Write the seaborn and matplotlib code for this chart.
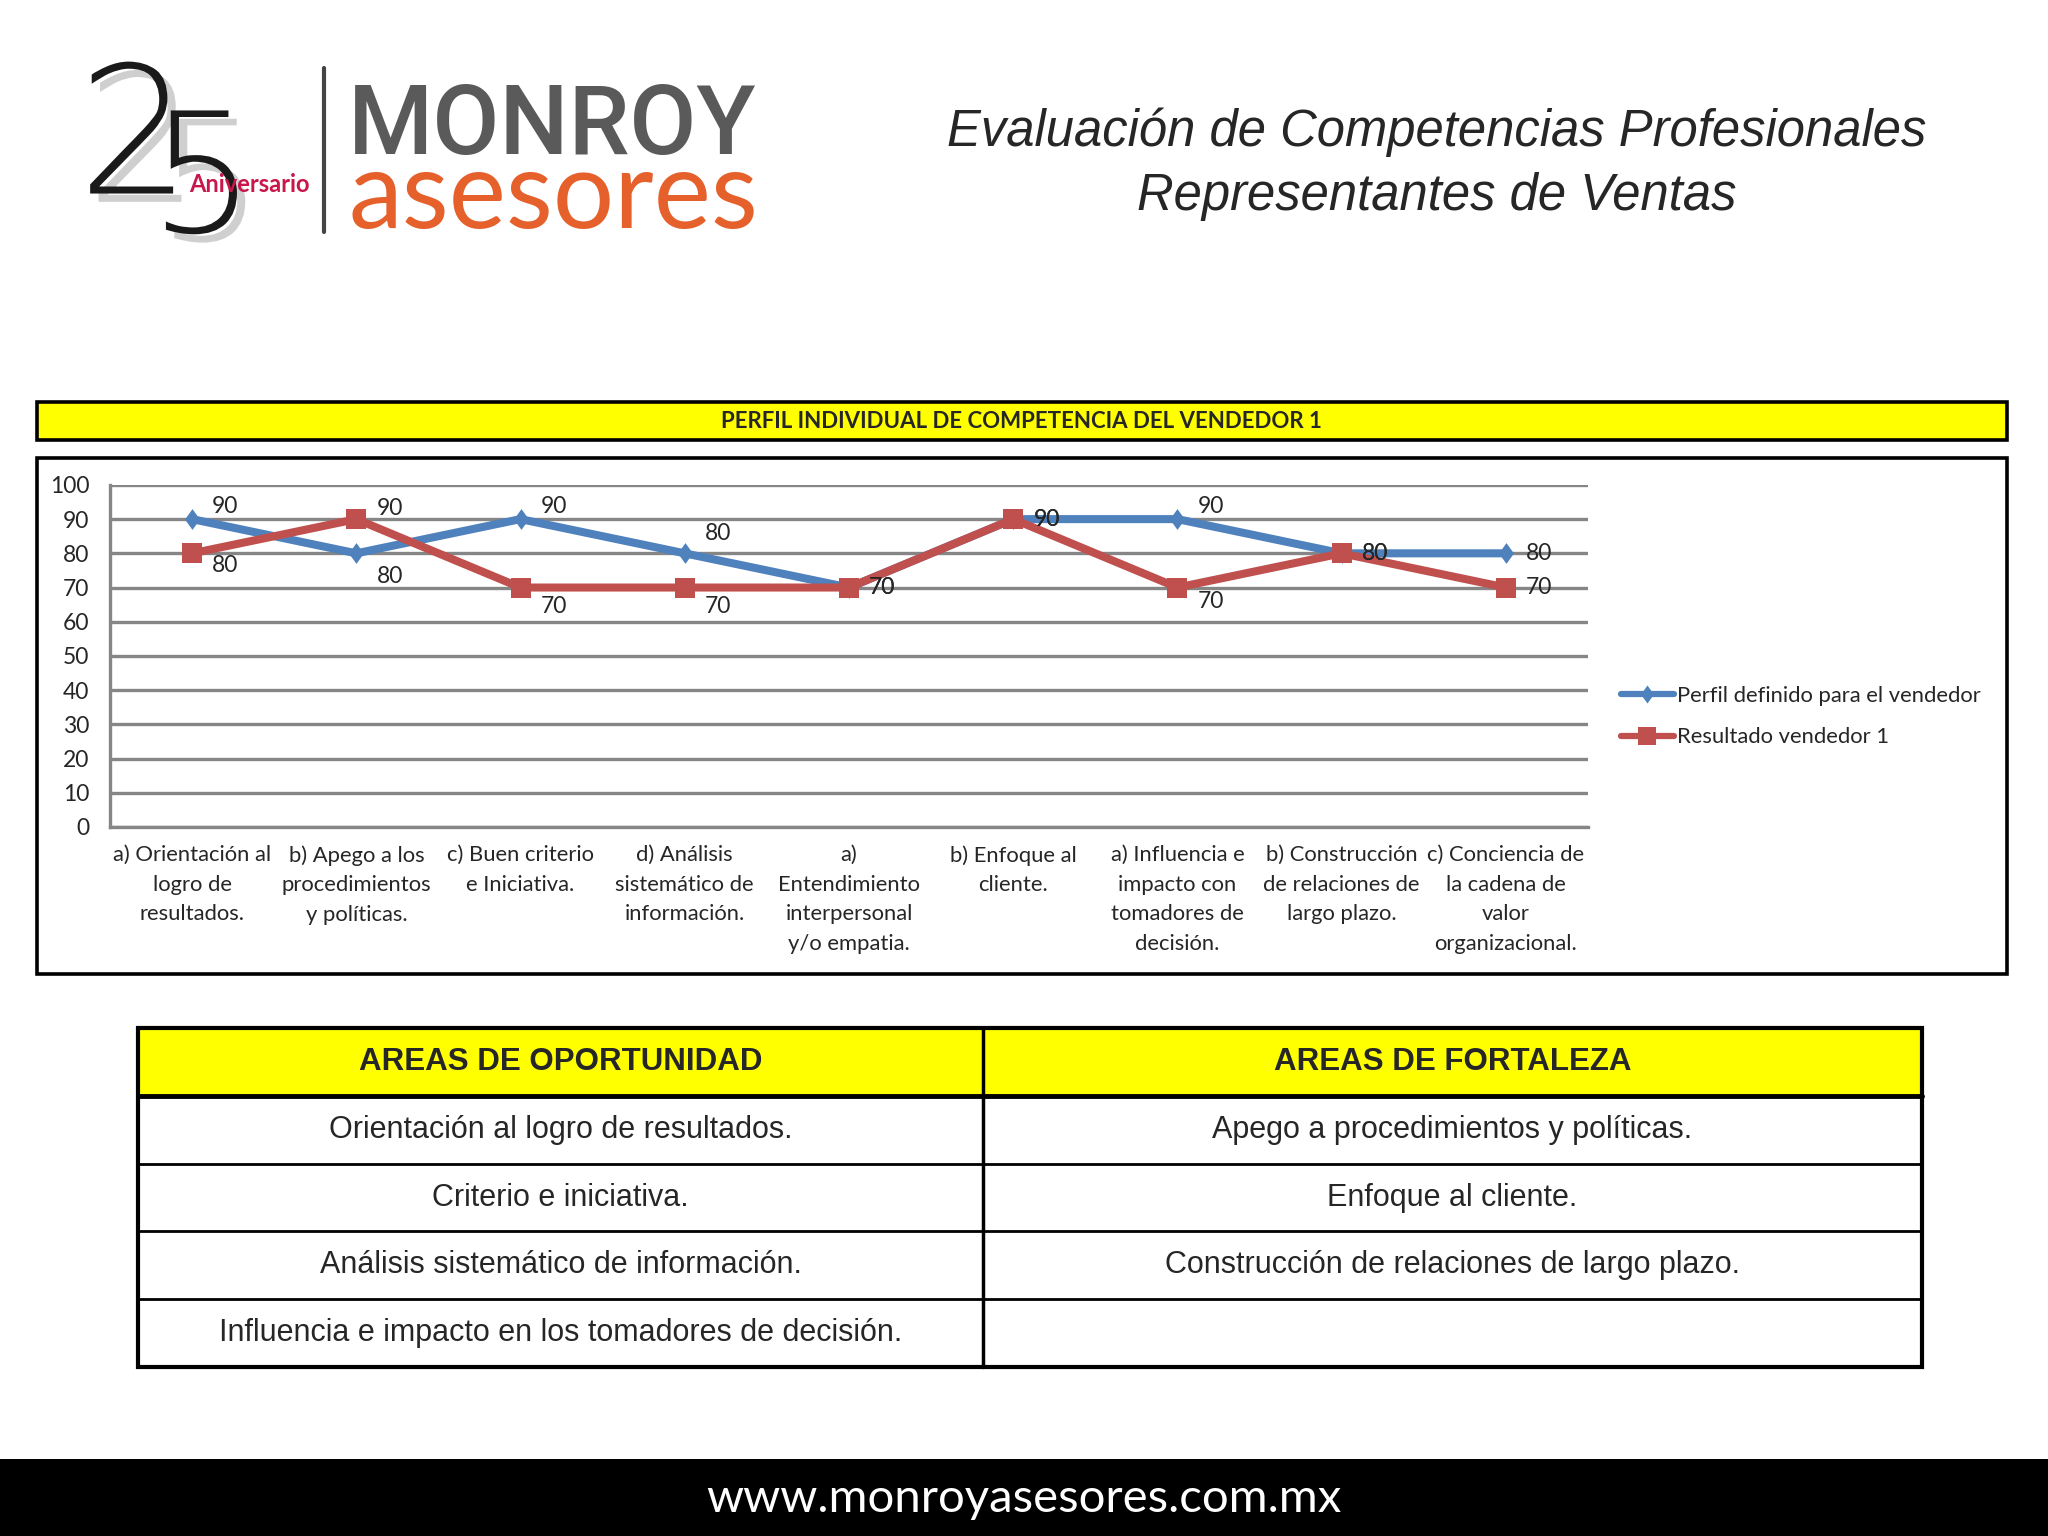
import numpy as np
import pandas as pd
import seaborn as sns
import matplotlib.pyplot as plt
import matplotlib.patheffects as pe
from matplotlib.patches import Rectangle
from matplotlib.path import Path

# datos del grafico
categorias = [
    "a) Orientación al\nlogro de\nresultados.",
    "b) Apego a los\nprocedimientos\ny políticas.",
    "c) Buen criterio\ne Iniciativa.",
    "d) Análisis\nsistemático de\ninformación.",
    "a)\nEntendimiento\ninterpersonal\ny/o empatia.",
    "b) Enfoque al\ncliente.",
    "a) Influencia e\nimpacto con\ntomadores de\ndecisión.",
    "b) Construcción\nde relaciones de\nlargo plazo.",
    "c) Conciencia de\nla cadena de\nvalor\norganizacional.",
]
serie_perfil = "Perfil definido para el vendedor"
serie_resultado = "Resultado vendedor 1"
perfil = [90, 80, 90, 80, 70, 90, 90, 80, 80]
resultado = [80, 90, 70, 70, 70, 90, 70, 80, 70]
yticks = list(range(0, 101, 10))

# posicion de las etiquetas de datos (offset en puntos)
off_perfil = [(24, 9), (24, -17), (24, 9), (24, 14), (24, 0), (24, 0), (24, 9), (24, 0), (24, 0)]
off_resultado = [(24, -9), (24, 8), (24, -14), (24, -14), (24, 0), (24, 0), (24, -10), (24, 0), (24, 0)]

# tabla inferior
encabezados = ["AREAS DE OPORTUNIDAD", "AREAS DE FORTALEZA"]
oportunidad = [
    "Orientación al logro de resultados.",
    "Criterio e iniciativa.",
    "Análisis sistemático de información.",
    "Influencia e impacto en los tomadores de decisión.",
]
fortaleza = [
    "Apego a procedimientos y políticas.",
    "Enfoque al cliente.",
    "Construcción de relaciones de largo plazo.",
    "",
]

AZUL = "#4F81BD"
ROJO = "#C0504D"
GRIS = "#868686"
NARROW = ["Lato", "DejaVu Sans"]

# rombo algo mas alto que ancho, como en Excel
rombo = Path([(0, -0.5), (0.36, 0), (0, 0.5), (-0.36, 0), (0, -0.5)])

sns.set_style("white")
plt.rcParams["font.family"] = ["Liberation Sans", "DejaVu Sans"]

fig = plt.figure(figsize=(20.48, 15.36), dpi=100)

df = pd.DataFrame({
    "pos": list(range(len(categorias))) * 2,
    "valor": perfil + resultado,
    "serie": [serie_perfil] * len(perfil) + [serie_resultado] * len(resultado),
})

# ---- grafico de lineas ----
ax = fig.add_axes([0.0537, 0.4616, 0.7217, 0.2227])
sns.lineplot(data=df, x="pos", y="valor", hue="serie", style="serie",
             palette=[AZUL, ROJO], markers=[rombo, "s"], dashes=False,
             lw=5.8, ms=14, markeredgewidth=0, ax=ax, zorder=3)
ax.lines[0].set_markersize(15)

ax.set_xlim(-0.5, len(categorias) - 0.5)
ax.set_ylim(0, 100)
ax.set_yticks(yticks)
ax.set_xticks(np.arange(-0.5, len(categorias), 1))
ax.set_xticklabels([])
ax.set_xticks(range(len(categorias)), minor=True)
ax.set_xticklabels(categorias, minor=True, family=NARROW, fontsize=15.8,
                   linespacing=1.6)
ax.tick_params(axis="x", which="major", length=8, width=2, color=GRIS, direction="out")
ax.tick_params(axis="x", which="minor", length=0, pad=13)
ax.tick_params(axis="y", length=5, width=2, color=GRIS, pad=10, labelsize=16.5)
for t in ax.get_yticklabels():
    t.set_family(NARROW)
ax.set_xlabel("")
ax.set_ylabel("")
ax.grid(axis="y", color=GRIS, lw=2.4)
ax.set_axisbelow(True)
for s in ["top", "right"]:
    ax.spines[s].set_visible(False)
for s in ["left", "bottom"]:
    ax.spines[s].set_color(GRIS)
    ax.spines[s].set_linewidth(2.4)

for i, (v, o) in enumerate(zip(perfil, off_perfil)):
    ax.annotate(str(v), (i, v), xytext=o, textcoords="offset points",
                ha="center", va="center", fontsize=16.5, family=NARROW, zorder=4)
for i, (v, o) in enumerate(zip(resultado, off_resultado)):
    ax.annotate(str(v), (i, v), xytext=o, textcoords="offset points",
                ha="center", va="center", fontsize=16.5, family=NARROW, zorder=4)

h, l = ax.get_legend_handles_labels()
leg = ax.legend(h, l, loc="center left", bbox_to_anchor=(1.015, 0.323),
                frameon=False, handlelength=2.4, handletextpad=0.15,
                labelspacing=1.0, borderpad=0, prop={"family": NARROW, "size": 15.8})
for lh in leg.legend_handles:
    lh.set_linewidth(4.5)
    lh.set_markersize(13)
    lh.set_markeredgewidth(0)

# marco del grafico y barra amarilla
fig.add_artist(Rectangle((0.018, 0.3659), 0.962, 0.3359, transform=fig.transFigure,
                         fill=False, ec="black", lw=2.6))
fig.add_artist(Rectangle((0.018, 0.7135), 0.962, 0.0248, transform=fig.transFigure,
                         fc="#FFFF00", ec="black", lw=2.6))
fig.text(0.4986, 0.7259, "PERFIL INDIVIDUAL DE COMPETENCIA DEL VENDEDOR 1",
         ha="center", va="center", fontsize=16, fontweight="bold", family=NARROW)

# ---- titulo ----
fig.text(0.7017, 0.914, "Evaluación de Competencias Profesionales",
         ha="center", va="center", fontsize=36.5, style="italic")
fig.text(0.7017, 0.872, "Representantes de Ventas",
         ha="center", va="center", fontsize=36.5, style="italic")

# ---- logo ----
sombra = [pe.withSimplePatchShadow(offset=(6, -6), shadow_rgbFace="#BBBBBB", alpha=0.7)]
fig.text(0.038, 0.874, "2", fontsize=128, color="#1a1a1a", weight="light",
         family=["DejaVu Sans"], va="baseline", path_effects=sombra)
fig.text(0.073, 0.849, "5", fontsize=120, color="#1a1a1a", weight="light",
         family=["DejaVu Sans"], va="baseline", path_effects=sombra)
fig.text(0.0925, 0.880, "Aniversario", fontsize=17, color="#C8174A",
         fontweight="bold", family=NARROW, va="center")
fig.add_artist(plt.Line2D([0.1582, 0.1582], [0.849, 0.956], transform=fig.transFigure,
                          color="#444444", lw=3))
fig.text(0.170, 0.8997, "MONROY", fontsize=70, color="#5a5a5a", fontweight="medium",
         family=["Roboto", "DejaVu Sans"], va="baseline")
fig.text(0.170, 0.8516, "asesores", fontsize=78, color="#E5602B",
         family=["Lato", "DejaVu Sans"], va="baseline")

# ---- tabla ----
tab = fig.add_axes([0.0674, 0.110, 0.8711, 0.2207])
ancho_total = 1784
corte = 845
tab.set_xlim(0, ancho_total)
tab.set_ylim(len(oportunidad) + 1, 0)
tab.axis("off")
tab.add_patch(Rectangle((0, 0), ancho_total, 1, fc="#FFFF00", ec="none"))
centros = [corte / 2, (corte + ancho_total) / 2]
for c, txt in zip(centros, encabezados):
    tab.text(c, 0.5, txt, ha="center", va="center", fontsize=22.5,
             fontweight="bold")
for r, (a, b) in enumerate(zip(oportunidad, fortaleza), start=1):
    tab.text(centros[0], r + 0.5, a, ha="center", va="center", fontsize=22)
    tab.text(centros[1], r + 0.5, b, ha="center", va="center", fontsize=22)
for r in range(2, len(oportunidad) + 1):
    tab.plot([0, ancho_total], [r, r], color="black", lw=2, clip_on=False)
tab.plot([0, ancho_total], [1, 1], color="black", lw=3.5, clip_on=False)
tab.plot([corte, corte], [0, len(oportunidad) + 1], color="black", lw=2.5, clip_on=False)
tab.add_patch(Rectangle((0, 0), ancho_total, len(oportunidad) + 1, fill=False,
                        ec="black", lw=3, clip_on=False))

# ---- pie ----
fig.add_artist(Rectangle((0, 0), 1, 0.050, transform=fig.transFigure,
                         fc="black", ec="none"))
fig.text(0.5, 0.024, "www.monroyasesores.com.mx", ha="center", va="center",
         fontsize=34, color="white", family=["Lato", "DejaVu Sans"])

fig.savefig("out.png", dpi=100, facecolor="white")
